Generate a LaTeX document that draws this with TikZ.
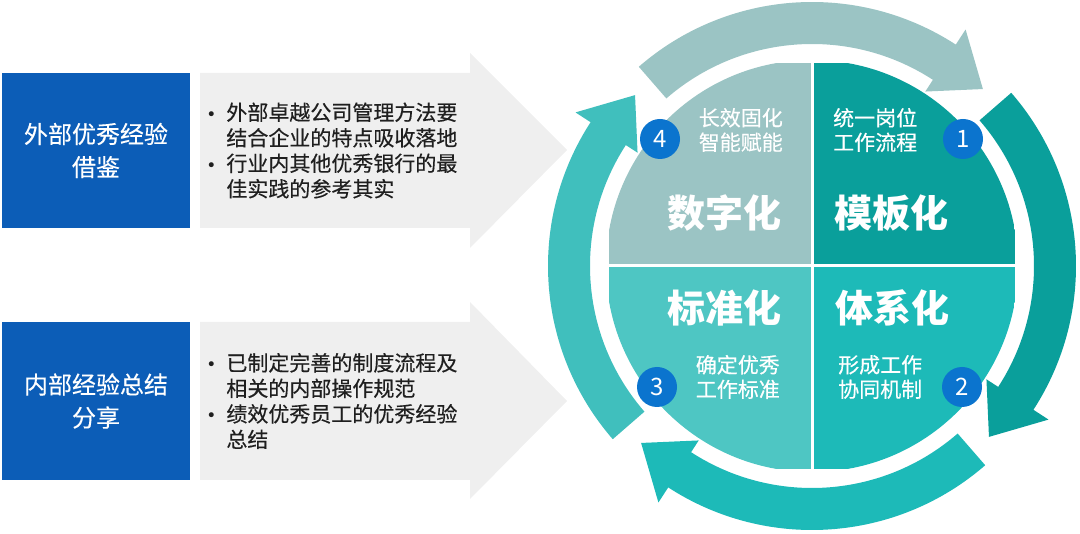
\documentclass[tikz,border=0pt]{standalone}
\usepackage{fontspec}
\setmainfont{Noto Sans CJK SC}
\newfontfamily\heavycjk{Noto Sans CJK SC}[FakeBold=0.35]
\newfontfamily\dotfont{DejaVu Sans}
\usetikzlibrary{positioning}

\definecolor{boxblue}{RGB}{12,93,183}
\definecolor{panelgray}{RGB}{239,239,239}
\definecolor{tealgray}{RGB}{155,196,196}
\definecolor{tealdark}{RGB}{10,159,155}
\definecolor{tealmid}{RGB}{29,186,184}
\definecolor{teallight}{RGB}{78,198,195}
\definecolor{tealleft}{RGB}{64,191,189}
\definecolor{badgeblue}{RGB}{11,116,206}

\newcommand{\bulitem}{\makebox[20pt][l]{\dotfont\fontsize{17pt}{17pt}\selectfont •}}
\newcommand{\bulskip}{\hspace*{20pt}}

\begin{document}
\begin{tikzpicture}[x=1pt, y=-1pt, every node/.style={font=\heavycjk\fontsize{21pt}{25.5pt}\selectfont},
    srcbox/.style={fill=boxblue, text=white, minimum width=188pt, align=center, font=\heavycjk\fontsize{24pt}{33pt}\selectfont},
    bullets/.style={align=left, inner sep=0pt, text=black!88},
    badge/.style={circle, fill=badgeblue, text=white, minimum size=40pt, inner sep=0pt, font=\fontsize{24pt}{24pt}\selectfont},
    big/.style={text=white, inner sep=0pt, font=\fontsize{38pt}{38pt}\selectfont\bfseries},
    sub/.style={text=white, inner sep=0pt, align=center, font=\heavycjk\fontsize{21pt}{24.5pt}\selectfont}]
	\useasboundingbox (0,0) rectangle (1080,534);

	% sources on the left
	\fill[panelgray] (200,73) -- (470,73) -- (470,53) -- (567,150) -- (470,248) -- (470,228) -- (200,228) -- cycle;
	\fill[panelgray] (200,322) -- (470,322) -- (470,302) -- (567,401) -- (470,499) -- (470,480) -- (200,480) -- cycle;
	\node[srcbox, minimum height=155pt] (ext) at (96,150.5) {外部优秀经验\\借鉴};
	\node[srcbox, minimum height=158pt] (int) at (96,401) {内部经验总结\\分享};
	\node[bullets, right=16pt of ext] (extText) {\bulitem 外部卓越公司管理方法要\\\bulskip 结合企业的特点吸收落地\\\bulitem 行业内其他优秀银行的最\\\bulskip 佳实践的参考其实};
	\node[bullets, right=16pt of int] (intText) {\bulitem 已制定完善的制度流程及\\\bulskip 相关的内部操作规范\\\bulitem 绩效优秀员工的优秀经验\\\bulskip 总结};

	% cycle
	\begin{scope}[shift={(812,266)}]
		\fill[tealgray] (-131:264) arc[start angle=-131, end angle=-57, radius=264] -- (-57:282) -- (-46:246) -- (-57:208) -- (-57:222) arc[start angle=-57, end angle=-131, radius=222] -- cycle;
		\fill[tealdark] (-41:264) arc[start angle=-41, end angle=33, radius=264] -- (33:282) -- (44:246) -- (33:208) -- (33:222) arc[start angle=33, end angle=-41, radius=222] -- cycle;
		\fill[tealmid] (49:264) arc[start angle=49, end angle=123, radius=264] -- (123:282) -- (134:246) -- (123:208) -- (123:222) arc[start angle=123, end angle=49, radius=222] -- cycle;
		\fill[tealleft] (139:264) arc[start angle=139, end angle=213, radius=264] -- (213:282) -- (224:246) -- (213:208) -- (213:222) arc[start angle=213, end angle=139, radius=222] -- cycle;
		\begin{scope}
			\clip (0,0) circle[radius=206];
			\fill[tealgray] (-203,-203) rectangle (0,0);
			\fill[tealdark] (0,-203) rectangle (203,0);
			\fill[teallight] (-203,0) rectangle (0,203);
			\fill[tealmid] (0,0) rectangle (203,203);
		\end{scope}
		\draw[white, line width=3pt] (0,-208) -- (0,208) (-208,0) -- (208,0);
	\end{scope}

	\node[badge] (n4) at (660,139) {4};
	\node[badge] (n1) at (963,139) {1};
	\node[badge] (n3) at (657,387) {3};
	\node[badge] (n2) at (962,387) {2};

	\node[big, anchor=east] (digital) at (782,213) {数字化};
	\node[big, anchor=west] (template) at (834,213) {模板化};
	\node[big, anchor=east] (standard) at (782,308) {标准化};
	\node[big, anchor=west] (system) at (835,308) {体系化};

	\node[sub, anchor=east] (s4) at (783,130) {长效固化\\智能赋能};
	\node[sub, anchor=west] (s1) at (833,130) {统一岗位\\工作流程};
	\node[sub, anchor=east] (s3) at (780,377) {确定优秀\\工作标准};
	\node[sub, anchor=west] (s2) at (838,377) {形成工作\\协同机制};
\end{tikzpicture}
\end{document}
